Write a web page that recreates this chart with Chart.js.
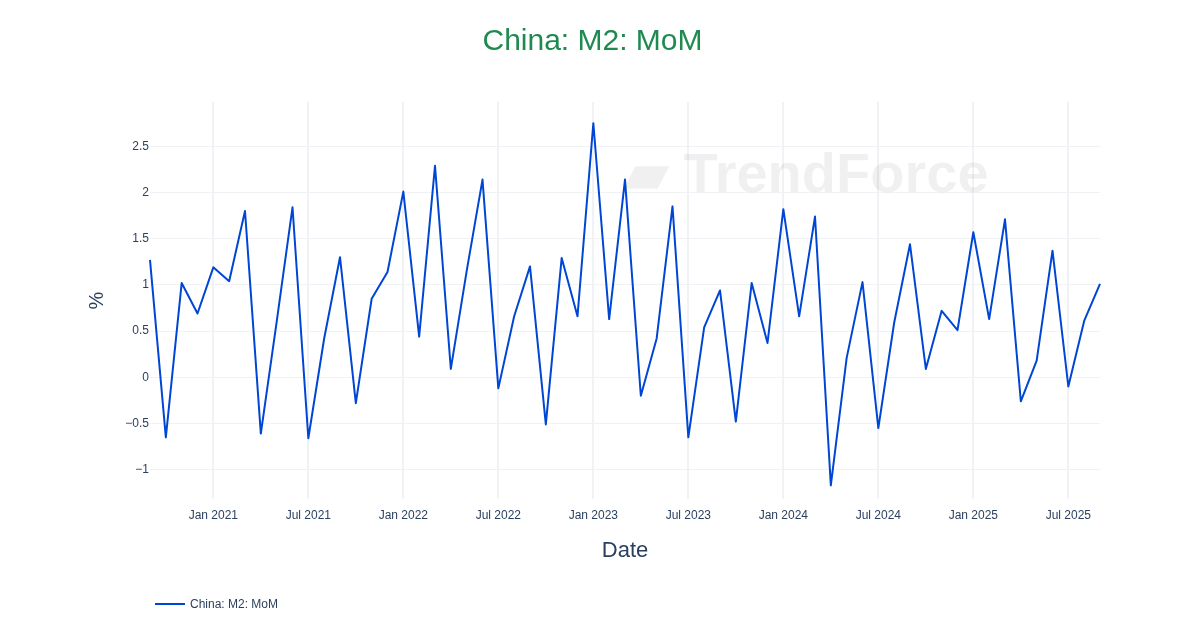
<!DOCTYPE html>
<html>
<head>
<meta charset="utf-8">
<script src="https://cdn.jsdelivr.net/npm/chart.js@4"></script>
<style>
  body { margin: 0; background: #fff; }
  #wrap { position: relative; width: 1200px; height: 630px; font-family: "Liberation Sans", Arial, sans-serif; }
  #wm { position: absolute; left: 625px; top: 140px; font: bold 56px "Liberation Sans", sans-serif; color: rgba(0,0,0,0.06); }
  #legend { position: absolute; left: 155px; top: 597px; font-size: 12px; color: #2a3f5f; display: flex; align-items: center; }
  #legend span.ln { display: inline-block; width: 30px; height: 2px; background: #0046d5; margin-right: 5px; }
</style>
</head>
<body>
<div id="wrap">
  <div id="wm">▰ TrendForce</div>
  <canvas id="c" width="1200" height="630"></canvas>
  <div id="legend"><span class="ln"></span>China: M2: MoM</div>
</div>
<script>
const months = ['Jan','Feb','Mar','Apr','May','Jun','Jul','Aug','Sep','Oct','Nov','Dec'];
// Sep 2020 .. Sep 2025
const labels = [];
for (let y = 2020, m = 8; y < 2025 || (y === 2025 && m <= 8); m++) {
  if (m === 12) { m = 0; y++; }
  labels.push(months[m] + ' ' + y);
}
const m2MoM = [
  1.27, -0.65, 1.02, 0.69,
  1.19, 1.04, 1.80, -0.61, 0.60, 1.84, -0.66, 0.42, 1.30, -0.28, 0.85, 1.14,
  2.01, 0.44, 2.29, 0.09, 1.15, 2.14, -0.12, 0.66, 1.20, -0.51, 1.29, 0.66,
  2.75, 0.63, 2.14, -0.20, 0.42, 1.85, -0.65, 0.54, 0.94, -0.48, 1.02, 0.37,
  1.82, 0.66, 1.74, -1.17, 0.21, 1.03, -0.55, 0.59, 1.44, 0.09, 0.72, 0.51,
  1.57, 0.63, 1.71, -0.26, 0.18, 1.37, -0.10, 0.61, 1.01
];

const isMajor = l => l && (l.startsWith('Jan') || l.startsWith('Jul'));
const font = { family: '"Liberation Sans", Arial, sans-serif' };

new Chart(document.getElementById('c'), {
  type: 'line',
  data: {
    labels,
    datasets: [{
      label: 'China: M2: MoM',
      data: m2MoM,
      borderColor: '#0046d5',
      borderWidth: 2,
      borderJoinStyle: 'round',
      pointRadius: 0,
      tension: 0
    }]
  },
  options: {
    responsive: false,
    animation: false,
    layout: { padding: { left: 85, right: 100, top: 0, bottom: 62 } },
    plugins: {
      title: {
        display: true, text: 'China: M2: MoM', color: '#1e8a50',
        font: { ...font, size: 30, weight: 'normal' }, padding: { top: 24, bottom: 42 }
      },
      legend: { display: false },
      tooltip: { enabled: false }
    },
    scales: {
      x: {
        offset: false,
        grid: {
          color: ctx => isMajor(ctx.tick && labels[ctx.tick.value]) ? '#f0f2f6' : 'transparent',
          drawTicks: false, lineWidth: 2
        },
        border: { display: false },
        ticks: {
          autoSkip: false, maxRotation: 0, color: '#2a3f5f', font: { ...font, size: 12 }, padding: 9,
          callback: (v, i) => { const l = labels[i]; return (l.startsWith('Jan') || l.startsWith('Jul')) ? l : null; }
        },
        title: { display: true, text: 'Date', color: '#2a3f5f', font: { ...font, size: 22 }, padding: { top: 6 } }
      },
      y: {
        min: -1.32, max: 2.98,
        afterFit: s => { s.width = 65; },
        grid: { color: '#f0f2f6', drawTicks: false, lineWidth: 1 },
        border: { display: false },
        ticks: {
          stepSize: 0.5, color: '#2a3f5f', font: { ...font, size: 12 }, padding: 1,
          callback: v => Math.abs(v - Math.round(v * 2) / 2) > 1e-6 ? null : String(+v.toFixed(1)).replace('-', '−')
        },
        title: { display: true, text: '%', color: '#2a3f5f', font: { ...font, size: 20 }, padding: 0 }
      }
    }
  }
});
</script>
</body>
</html>
